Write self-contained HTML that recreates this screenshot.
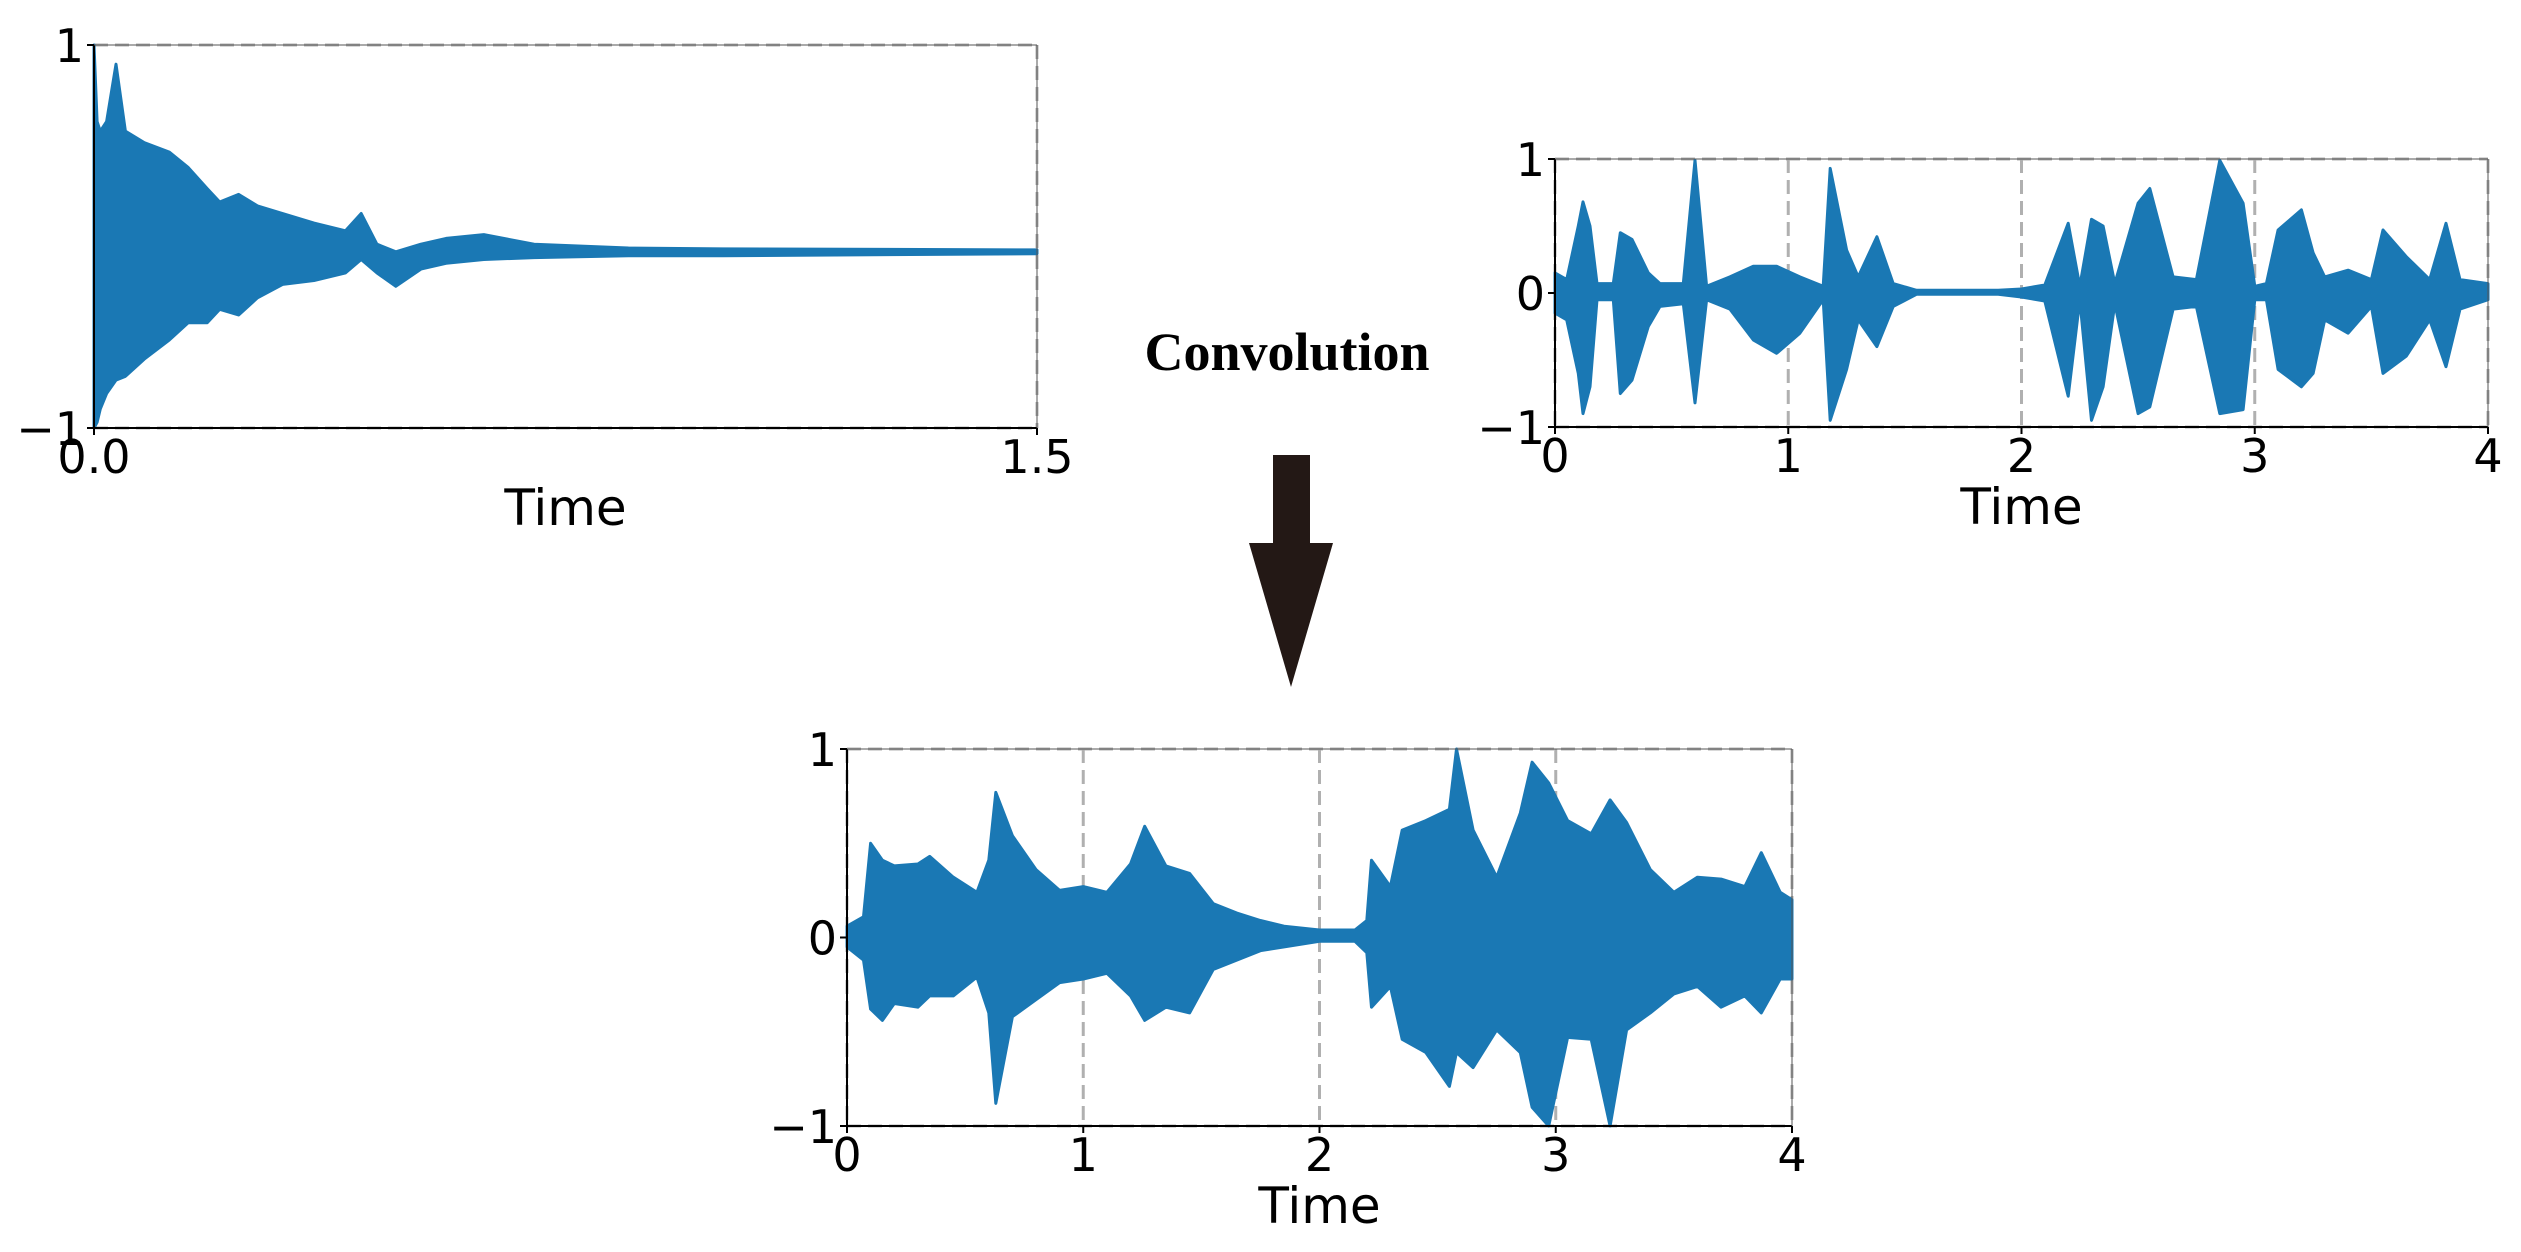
<!DOCTYPE html>
<html><head><meta charset="utf-8"><style>
html,body{margin:0;padding:0;background:#fff;}
svg{display:block;}
text{font-family:"DejaVu Sans","Liberation Sans",sans-serif;fill:#000;}
</style></head><body>
<svg id="fig" width="2521" height="1252" viewBox="0 0 2521 1252" xmlns="http://www.w3.org/2000/svg">
<text x="1287" y="370" text-anchor="middle" style="font-family:'Liberation Serif',serif;font-weight:bold;font-size:54px">Convolution</text>
<g>
<rect x="1273" y="455" width="37" height="90" fill="#231815"/>
<polygon points="1249,543 1333,543 1291,687" fill="#231815"/>
</g>
</svg>
<script>
// Impulse response (plot 1)
const irTime=[0,0.005,0.01,0.02,0.035,0.05,0.08,0.12,0.15,0.18,0.2,0.23,0.26,0.3,0.35,0.4,0.425,0.45,0.48,0.52,0.56,0.62,0.7,0.85,1.0,1.5];
const irUpper=[1,0.6,0.55,0.6,0.9,0.55,0.49,0.44,0.36,0.25,0.18,0.22,0.16,0.12,0.07,0.03,0.12,-0.04,-0.08,-0.04,-0.01,0.01,-0.04,-0.06,-0.065,-0.07];
const irLower=[-1,-0.97,-0.9,-0.82,-0.75,-0.73,-0.64,-0.54,-0.45,-0.45,-0.38,-0.41,-0.32,-0.25,-0.23,-0.19,-0.12,-0.19,-0.26,-0.17,-0.14,-0.12,-0.11,-0.1,-0.1,-0.09];
const irXTicks=[0,1.5];
const irXTickLabels=["0.0","1.5"];
const irYTicks=[-1,1];
const irYTickLabels=["\u22121","1"];
// Dry speech (plot 2)
const spTime=[0,0.05,0.1,0.12,0.15,0.18,0.25,0.28,0.33,0.4,0.45,0.55,0.6,0.65,0.75,0.85,0.95,1.05,1.15,1.18,1.25,1.3,1.38,1.45,1.55,1.9,2.0,2.1,2.2,2.25,2.3,2.35,2.4,2.5,2.55,2.65,2.75,2.85,2.95,3.0,3.05,3.1,3.2,3.25,3.3,3.4,3.5,3.55,3.65,3.75,3.82,3.88,4.0];
const spUpper=[0.15,0.1,0.5,0.68,0.5,0.07,0.07,0.45,0.4,0.15,0.07,0.07,0.99,0.05,0.12,0.2,0.2,0.12,0.05,0.93,0.32,0.12,0.42,0.07,0.02,0.02,0.03,0.06,0.52,0.05,0.55,0.5,0.07,0.67,0.78,0.12,0.1,0.99,0.67,0.05,0.07,0.47,0.62,0.3,0.12,0.17,0.1,0.47,0.27,0.1,0.52,0.1,0.07];
const spLower=[-0.15,-0.2,-0.6,-0.9,-0.7,-0.05,-0.05,-0.75,-0.65,-0.25,-0.1,-0.08,-0.82,-0.05,-0.12,-0.35,-0.45,-0.3,-0.05,-0.95,-0.57,-0.2,-0.4,-0.1,-0.01,-0.01,-0.03,-0.06,-0.77,-0.05,-0.95,-0.7,-0.08,-0.9,-0.85,-0.12,-0.1,-0.9,-0.87,-0.05,-0.05,-0.57,-0.7,-0.6,-0.2,-0.3,-0.1,-0.6,-0.47,-0.2,-0.55,-0.12,-0.05];
const spXTicks=[0,1,2,3,4];
const spXTickLabels=["0","1","2","3","4"];
const spYTicks=[-1,0,1];
const spYTickLabels=["\u22121","0","1"];
// Convolved output (plot 3)
const cvTime=[0,0.07,0.1,0.15,0.2,0.3,0.35,0.45,0.55,0.6,0.63,0.7,0.8,0.9,1.0,1.1,1.2,1.26,1.35,1.45,1.55,1.65,1.75,1.85,2.0,2.15,2.2,2.22,2.3,2.35,2.45,2.55,2.58,2.65,2.75,2.85,2.9,2.97,3.05,3.15,3.23,3.3,3.4,3.5,3.6,3.7,3.8,3.87,3.95,4.0];
const cvUpper=[0.06,0.11,0.5,0.41,0.38,0.39,0.43,0.32,0.24,0.41,0.77,0.54,0.36,0.25,0.27,0.24,0.39,0.59,0.38,0.34,0.18,0.13,0.09,0.06,0.04,0.04,0.09,0.41,0.27,0.57,0.62,0.68,1.0,0.57,0.32,0.66,0.93,0.82,0.62,0.55,0.73,0.61,0.36,0.24,0.32,0.31,0.27,0.45,0.24,0.2];
const cvLower=[-0.05,-0.12,-0.38,-0.44,-0.35,-0.37,-0.31,-0.31,-0.21,-0.4,-0.88,-0.42,-0.33,-0.24,-0.22,-0.19,-0.31,-0.44,-0.37,-0.4,-0.17,-0.12,-0.07,-0.05,-0.02,-0.02,-0.08,-0.37,-0.26,-0.54,-0.61,-0.79,-0.61,-0.69,-0.49,-0.61,-0.9,-1.0,-0.53,-0.54,-1.0,-0.49,-0.4,-0.3,-0.26,-0.37,-0.31,-0.4,-0.22,-0.22];

const NS='http://www.w3.org/2000/svg';
const fig=document.getElementById('fig');
function mk(tag,attrs,parent){const e=document.createElementNS(NS,tag);for(const k in attrs)e.setAttribute(k,attrs[k]);(parent||fig).appendChild(e);return e;}

function drawPlot(name,box,xMax,times,upper,lower,xTicks,xLabels,yTicks,yLabels,vgrid){
  const g=mk('g',{});
  
  
  const sx=v=>box.l+(v/xMax)*(box.r-box.l);
  const sy=v=>box.b-((v+1)/2)*(box.b-box.t);
  const dash={stroke:'#b0b0b0','stroke-width':3,'stroke-dasharray':'14,7',fill:'none'};
  const gridX=[0,xMax].concat(vgrid);
  gridX.forEach(v=>{const l=mk('line',Object.assign({x1:sx(v),x2:sx(v),y1:box.t,y2:box.b},dash),g);
    
    });
  [-1,1].forEach(v=>{const l=mk('line',Object.assign({x1:box.l,x2:box.r,y1:sy(v),y2:sy(v)},dash),g);
    
    });
  let pts=[];
  for(let i=0;i<times.length;i++)pts.push(sx(times[i]).toFixed(1)+','+sy(upper[i]).toFixed(1));
  for(let i=times.length-1;i>=0;i--)pts.push(sx(times[i]).toFixed(1)+','+sy(lower[i]).toFixed(1));
  const w=mk('polygon',{points:pts.join(' '),fill:'#1a78b4',stroke:'#1a78b4','stroke-width':3,'stroke-linejoin':'round'},g);
  
  
  const s1=mk('line',{x1:box.l,x2:box.l,y1:box.t,y2:box.b,stroke:'#000','stroke-width':2},g);
  
  
  const s2=mk('line',{x1:box.l,x2:box.r,y1:box.b,y2:box.b,stroke:'#000','stroke-width':2},g);
  
  
  const s3=mk('line',{x1:box.l,x2:box.r,y1:box.t,y2:box.t,stroke:'#555','stroke-width':1},g);
  
  
  const s4=mk('line',{x1:box.r,x2:box.r,y1:box.t,y2:box.b,stroke:'#555','stroke-width':1},g);
  
  
  xTicks.forEach((v,i)=>{
    const tk=mk('line',{x1:sx(v),x2:sx(v),y1:box.b,y2:box.b+7,stroke:'#000','stroke-width':2},g);
    
    
    const t=mk('text',{x:sx(v),y:box.b+45,'text-anchor':'middle','font-size':46},g);
    t.textContent=xLabels[i];
    
    
  });
  yTicks.forEach((v,i)=>{
    const tk=mk('line',{x1:box.l-7,x2:box.l,y1:sy(v),y2:sy(v),stroke:'#000','stroke-width':2},g);
    
    
    const t=mk('text',{x:box.l-10,y:sy(v)+17,'text-anchor':'end','font-size':46},g);
    t.textContent=yLabels[i];
    
    
  });
  const xt=mk('text',{x:(box.l+box.r)/2,y:box.b+97,'text-anchor':'middle','font-size':50},g);
  xt.textContent='Time';
  
  
}
drawPlot('impulse-response-plot',{l:94,r:1037,t:45,b:428},1.5,irTime,irUpper,irLower,irXTicks,irXTickLabels,irYTicks,irYTickLabels,[]);
drawPlot('speech-plot',{l:1555,r:2488,t:159,b:427},4,spTime,spUpper,spLower,spXTicks,spXTickLabels,spYTicks,spYTickLabels,[1,2,3]);
drawPlot('convolved-plot',{l:847,r:1792,t:749,b:1126},4,cvTime,cvUpper,cvLower,spXTicks,spXTickLabels,spYTicks,spYTickLabels,[1,2,3]);
</script>
</body></html>
